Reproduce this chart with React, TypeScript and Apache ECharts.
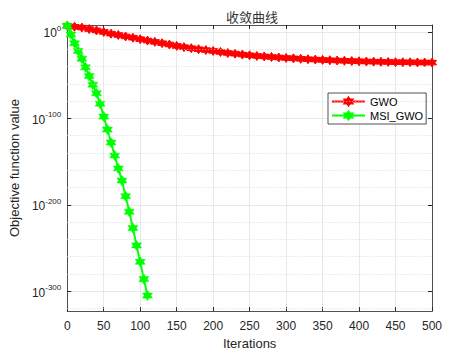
import React, { useEffect, useRef } from "react";
import * as echarts from "echarts";

// log10 of objective function value
const gwoIter = [0,10,20,30,40,50,60,70,80,90,100,110,120,130,140,150,160,170,180,190,200,210,220,230,240,250,260,270,280,290,300,310,320,330,340,350,360,370,380,390,400,410,420,430,440,450,460,470,480,490,500];
const gwoLog10 = [7,6,5,3.3,1.7,0,-2,-3.6,-5.2,-6.7,-8.4,-10,-11.5,-13,-14.6,-16.2,-17.6,-18.8,-20,-21,-22,-23.2,-24.4,-25.2,-26.2,-27,-27.8,-28.4,-29,-29.6,-30.1,-30.6,-31.1,-31.6,-32,-32.4,-32.8,-33.1,-33.4,-33.7,-34,-34.2,-34.4,-34.6,-34.8,-35,-35.1,-35.2,-35.3,-35.4,-35.5];
const msiIter = [0,5,10,15,20,25,30,35,40,45,50,55,60,65,70,75,80,85,90,95,100,105,110];
const msiLog10 = [7,-3,-13,-22,-31,-41,-51,-61,-71,-83,-98,-113,-128,-143,-158,-172,-190,-208,-227,-247,-266,-286,-305];

const xTicks = [0,50,100,150,200,250,300,350,400,450,500];
const yMajor = [0,-100,-200,-300];
const yMinor = [-20,-40,-60,-80,-120,-140,-160,-180,-220,-240,-260,-280,-320];
const seriesNames = ["GWO", "MSI_GWO"];

function hexagramPath(): string {
  const pts: string[] = [];
  for (let k = 0; k < 12; k++) {
    const a = (-90 + k * 30) * Math.PI / 180;
    const r = k % 2 === 0 ? 50 : 29;
    pts.push(`${(50 + r * Math.cos(a)).toFixed(2)} ${(50 + r * Math.sin(a)).toFixed(2)}`);
  }
  return "path://M" + pts.join(" L") + " Z";
}

export default function App() {
  const ref = useRef<HTMLDivElement>(null);
  useEffect(() => {
    if (!ref.current) return;
    const chart = echarts.init(ref.current, null, { renderer: "svg" });
    const hex = hexagramPath();
    const font = "Liberation Sans, Arial, sans-serif";
    const axisColor = "#262626";
    const yRange = { min: -323, max: 8 };
    chart.setOption({
      animation: false,
      backgroundColor: "#ffffff",
      title: {
        text: "收敛曲线",
        left: 247,
        top: 5,
        textAlign: "center",
        textStyle: { fontFamily: "Noto Sans CJK SC", fontSize: 13, fontWeight: "normal", color: "#333333" },
      },
      legend: {
        data: seriesNames,
        orient: "vertical",
        left: 328,
        top: 93,
        itemWidth: 33,
        itemHeight: 10,
        itemGap: 3,
        padding: [3, 3, 3, 3],
        backgroundColor: "#ffffff",
        borderColor: "#262626",
        borderWidth: 0.8,
        borderRadius: 0,
        lineStyle: { type: "solid", width: 2 },
        textStyle: { fontFamily: font, fontSize: 11, color: "#000" },
      },
      grid: { left: 62, right: 42, top: 25, bottom: 41, containLabel: false },
      xAxis: [
        {
          type: "value",
          min: 0,
          max: 500,
          interval: 50,
          name: "Iterations",
          nameLocation: "middle",
          nameGap: 25,
          nameTextStyle: { fontFamily: font, fontSize: 13, color: axisColor },
          axisLine: { show: true, onZero: false, lineStyle: { color: axisColor, width: 0.8 } },
          axisTick: { show: true, inside: true, length: 4, lineStyle: { color: axisColor } },
          axisLabel: { fontFamily: font, fontSize: 12, color: axisColor, margin: 9, formatter: (v: number) => (xTicks.includes(v) ? String(v) : "") },
          splitLine: { show: true, lineStyle: { color: "#e3e3e3", width: 0.8 } },
        },
        {
          type: "value",
          position: "top",
          min: 0,
          max: 500,
          interval: 50,
          axisLine: { show: true, onZero: false, lineStyle: { color: axisColor, width: 0.8 } },
          axisTick: { show: true, inside: true, length: 4, lineStyle: { color: axisColor } },
          axisLabel: { show: false },
          splitLine: { show: false },
        },
      ],
      yAxis: [
        {
          type: "value",
          ...yRange,
          name: "Objective function value",
          nameLocation: "middle",
          nameGap: 39,
          nameTextStyle: { fontFamily: font, fontSize: 13, color: axisColor },
          axisLine: { show: true, onZero: false, lineStyle: { color: axisColor, width: 0.8 } },
          axisTick: { show: true, inside: true, length: 4, customValues: yMajor, lineStyle: { color: axisColor } },
          axisLabel: {
            customValues: yMajor,
            margin: 6,
            fontFamily: font,
            color: axisColor,
            formatter: (v: number) => `{b|10}{s|${Math.round(v)}}`,
            rich: {
              b: { fontFamily: font, fontSize: 12, color: axisColor, verticalAlign: "bottom" },
              s: { fontFamily: font, fontSize: 8, color: axisColor, verticalAlign: "bottom", padding: [0, 0, 7, 0] },
            },
          },
          splitLine: { show: true, lineStyle: { color: "#e3e3e3", width: 0.8 } },
        },
        {
          type: "value",
          ...yRange,
          position: "right",
          axisLine: { show: true, onZero: false, lineStyle: { color: axisColor, width: 0.8 } },
          axisTick: { show: true, inside: true, length: 4, customValues: yMajor, lineStyle: { color: axisColor } },
          axisLabel: { show: false },
          splitLine: { show: false },
        },
      ],
      series: [
        {
          name: "grid-minor",
          type: "line",
          data: [],
          silent: true,
          z: 0,
          markLine: {
            silent: true,
            symbol: "none",
            label: { show: false },
            lineStyle: { color: "#d0d0d0", type: [1, 2], width: 0.8 },
            data: yMinor.map((v) => ({ yAxis: v })),
          },
        },
        {
          name: seriesNames[0],
          type: "line",
          data: gwoIter.map((x, i) => [x, gwoLog10[i]]),
          symbol: hex,
          symbolSize: 9,
          showAllSymbol: true,
          itemStyle: { color: "#ff0000", borderColor: "#ff0000", borderWidth: 1 },
          lineStyle: { color: "#ff0000", width: 2, type: "solid" },
          z: 3,
        },
        {
          name: seriesNames[1],
          type: "line",
          data: msiIter.map((x, i) => [x, msiLog10[i]]),
          symbol: hex,
          symbolSize: 10,
          showAllSymbol: true,
          itemStyle: { color: "#00ff00", borderColor: "#00ff00", borderWidth: 0.5 },
          lineStyle: { color: "#00ff00", width: 2, type: "solid" },
          z: 4,
        },
      ],
    });
    return () => chart.dispose();
  }, []);
  return <div ref={ref} style={{ position: "fixed", left: 0, top: 0, width: 474, height: 355, background: "#fff" }} />;
}
